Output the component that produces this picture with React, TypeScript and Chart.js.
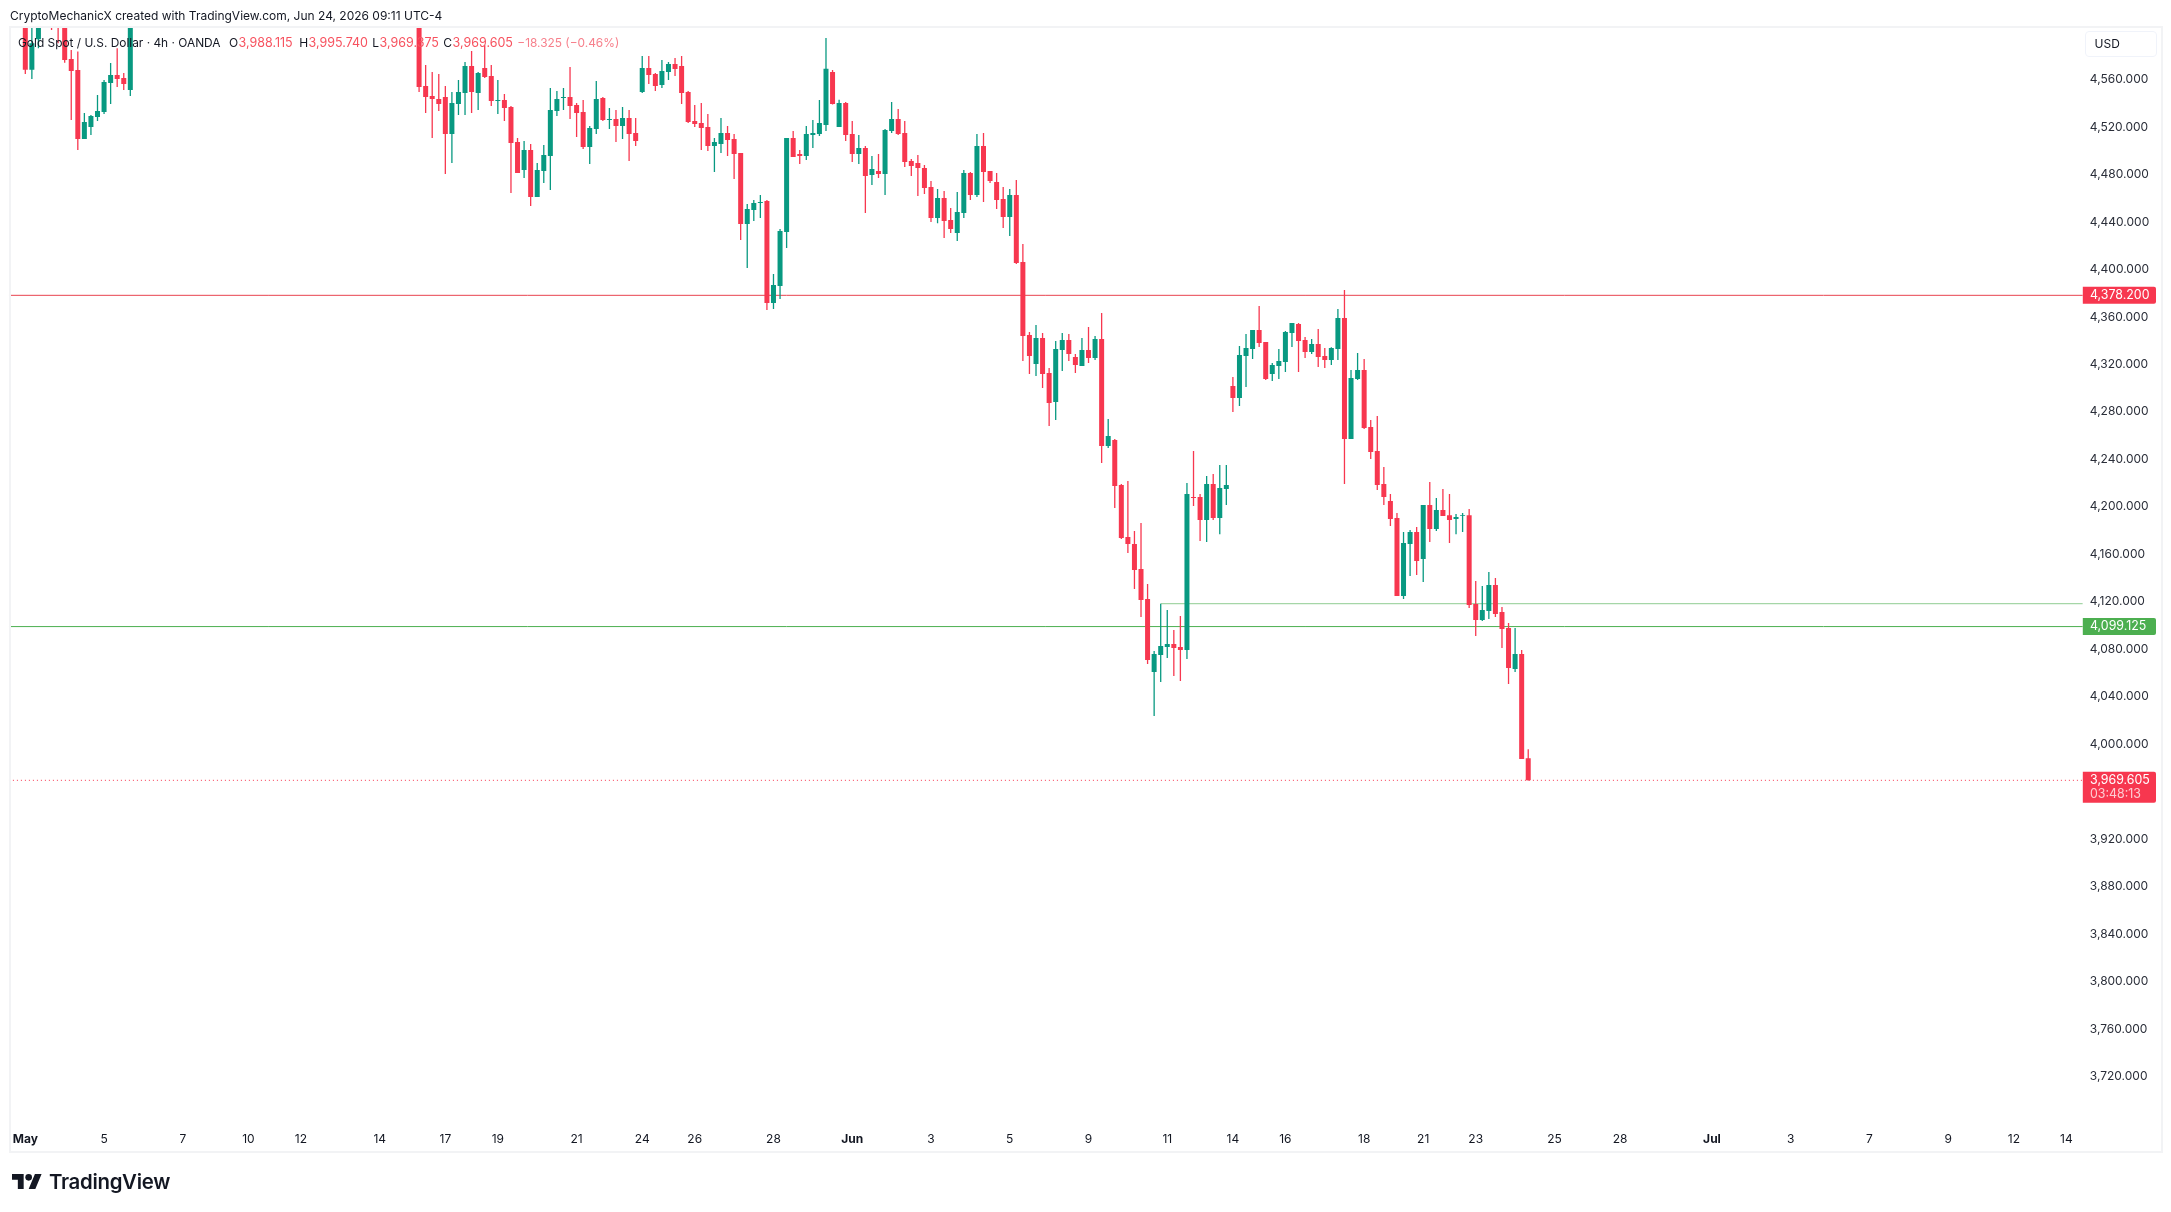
import React, { useEffect, useRef } from "react";
import { Chart, registerables } from "chart.js";

Chart.register(...registerables);

// Bar slots on the time axis (slot 0 = May 1, six 4h bars per trading day). Data hidden between 16 and 60.
const earlySlots = [0, 1, 2, 4, 5, 6, 7, 8, 9, 10, 11, 12, 13, 14, 15, 16];
const lateSlotFirst = 60;

const opens = [
  4625, 4568.3, 4593.9, 4640, 4640, 4620, 4577.3, 4568, 4509.9, 4520, 4528.4, 4532.7, 4557.1, 4563.8, 4561.3, 4551.2,
  4620, 4554.6, 4546.1, 4543.6, 4545.3, 4514.1, 4539.4, 4548.7, 4571.4, 4548.7,
  4569.7, 4563, 4541.9, 4542.8, 4536.9, 4507.4, 4483.8, 4500.6, 4461, 4483,
  4495.6, 4533.5, 4544.4, 4545.3, 4538.5, 4532.6, 4503.2, 4518.3, 4544.4, 4525.9,
  4526.8, 4520.9, 4527.6, 4515, 4549.5, 4569.7, 4564.7, 4555.4, 4566.3, 4573.1,
  4571.4, 4549.5, 4525, 4523.4, 4520, 4504, 4505.7, 4515, 4509.9, 4498.1,
  4438.3, 4450.1, 4456, 4457.7, 4371.7, 4386.1, 4431.6, 4510.7, 4497.3, 4495.6,
  4513.3, 4514.1, 4521.6, 4566.3, 4520, 4540.2, 4514, 4497.2, 4502.3, 4479.5,
  4482.9, 4480.4, 4516.6, 4526.7, 4514.9, 4491.3, 4489.6, 4485.4, 4469.4, 4443.3,
  4460.1, 4441.6, 4430.7, 4447.5, 4481.2, 4462.7, 4503.9, 4482.9, 4473.6, 4459.3,
  4444.1, 4462.7, 4406.2, 4344.7, 4320.3, 4342.2, 4312.7, 4288.3, 4332.1, 4340.5,
  4326.2, 4318.6, 4332.1, 4325.4, 4341.4, 4251.3, 4256.3, 4218.4, 4174.6, 4168.7,
  4147.6, 4122.3, 4060.8, 4075.1, 4081.9, 4084.4, 4081.9, 4079.3, 4208.2, 4208.2,
  4188.9, 4219.2, 4190.5, 4215, 4301.8, 4291.7, 4327.1, 4333, 4349, 4338.9,
  4311.9, 4318.7, 4322, 4346.5, 4354, 4340.6, 4330.4, 4337.2, 4327.1, 4323.7,
  4333, 4359.1, 4257.2, 4307.7, 4315.3, 4267.3, 4247, 4219.2, 4204.9, 4190.6,
  4124.8, 4168.6, 4178.8, 4156, 4201.5, 4181.3, 4197.3, 4193, 4189.7, 4192.2,
  4193, 4118.1, 4104.6, 4112.2, 4134.1, 4111.4, 4097.9, 4063.4, 4076, 3988.115,
];

const highs = [
  4640, 4615, 4630, 4650, 4650, 4630, 4584.9, 4583.5, 4531.8, 4530.1, 4547, 4559.6, 4573.9, 4586.3, 4565.5, 4635,
  4630, 4572.2, 4566.3, 4564.7, 4554.6, 4549.5, 4559.6, 4574.8, 4584, 4566.3,
  4588.8, 4572.2, 4559.6, 4547.8, 4537.7, 4510.7, 4508.2, 4505.7, 4489.7, 4504.9,
  4552.9, 4550.3, 4552.9, 4570.6, 4540.2, 4542.8, 4520.9, 4558.8, 4545.3, 4536,
  4534.3, 4536.9, 4534.3, 4527.6, 4579.8, 4579.8, 4565.5, 4576.5, 4574.8, 4578.1,
  4579.8, 4550.3, 4538.5, 4540.2, 4531, 4510.7, 4527.6, 4520.9, 4514.1, 4498.1,
  4455.1, 4458.5, 4462.7, 4458.5, 4396.2, 4434.1, 4510.7, 4516.6, 4500.6, 4520.9,
  4525.9, 4542.8, 4595, 4568, 4543, 4541, 4525, 4513.2, 4504, 4495.5,
  4497.2, 4518.3, 4541, 4535.1, 4525, 4493, 4496.4, 4488, 4474.5, 4467.7,
  4466, 4451.7, 4465.2, 4483.7, 4482, 4514, 4514.9, 4482.9, 4481.2, 4469.4,
  4467.7, 4475.3, 4421.4, 4347.3, 4353.2, 4346.4, 4316.9, 4339.7, 4346.4, 4345.6,
  4328.7, 4342.2, 4351.5, 4343.9, 4363.3, 4274, 4257.1, 4219.2, 4221.8, 4179.6,
  4186.3, 4135, 4078.5, 4118.4, 4113, 4096.2, 4108, 4220, 4247, 4210.8,
  4225.9, 4227.6, 4235.2, 4235.2, 4309.4, 4335.5, 4345.6, 4349, 4369.2, 4338.9,
  4321.2, 4333, 4348.1, 4354.9, 4354.9, 4343.1, 4341.4, 4349.8, 4333.8, 4334.5,
  4366.7, 4382.7, 4315.3, 4329.6, 4324.6, 4273.2, 4276.5, 4233.6, 4210.8, 4194.8,
  4178.8, 4180.4, 4183, 4201.5, 4220.9, 4207.4, 4215, 4210.8, 4193.9, 4194.8,
  4198.1, 4137.5, 4133.3, 4145.1, 4140, 4115.6, 4102.1, 4097.9, 4079.4, 3995.74,
];

const lows = [
  4564.7, 4560.5, 4586.3, 4601.7, 4590.5, 4574.2, 4525.9, 4500.6, 4509.9, 4513.3, 4525, 4531, 4539.4, 4553.7, 4551.2, 4546.1,
  4549.5, 4531.8, 4510.7, 4533.5, 4480.4, 4489.7, 4530.1, 4530.1, 4531.8, 4534.3,
  4561.3, 4537.7, 4531, 4525, 4464.4, 4481.3, 4477, 4453.5, 4461, 4472.8,
  4466.9, 4529.3, 4534.3, 4526.8, 4511.6, 4501.5, 4488.8, 4514.1, 4525, 4518.3,
  4507.4, 4509.9, 4491.4, 4504, 4548.7, 4556.2, 4550.3, 4552.9, 4559.6, 4563,
  4539.4, 4523.4, 4520, 4500.6, 4499.8, 4482.1, 4498.1, 4495.6, 4476.2, 4424.8,
  4401.2, 4440.8, 4443.4, 4365.9, 4366.7, 4375.1, 4418.1, 4494.7, 4488.8, 4492.2,
  4502.3, 4512.4, 4516.6, 4539, 4520, 4508.2, 4490.5, 4488.8, 4447.5, 4471.1,
  4477, 4462.7, 4514.9, 4513.2, 4486.3, 4478.7, 4461.8, 4463.5, 4439.9, 4439,
  4426.4, 4430.7, 4423.9, 4443.3, 4458.5, 4461, 4456.8, 4472.8, 4450.9, 4434.9,
  4428.1, 4404.5, 4322.8, 4311.9, 4310.2, 4300.1, 4268.1, 4273.1, 4314.4, 4322.8,
  4312.7, 4318.6, 4321.2, 4323.7, 4236.9, 4249.6, 4199, 4172.9, 4161.1, 4130.7,
  4107.1, 4067.5, 4023.8, 4052.4, 4072.6, 4057.4, 4053.2, 4071.8, 4200.7, 4171.2,
  4170.3, 4188.9, 4177, 4201.5, 4279.9, 4285, 4301, 4324.5, 4334.7, 4306.9,
  4306, 4307.7, 4313.6, 4334.7, 4313.6, 4325.4, 4328.8, 4317.8, 4317, 4319.5,
  4323.7, 4219.2, 4257.2, 4306.9, 4265.6, 4240.3, 4214.2, 4201.5, 4183.8, 4124.8,
  4122.3, 4141.7, 4142.5, 4136.6, 4170.3, 4179.6, 4192.2, 4169.5, 4177, 4178.8,
  4114.7, 4091.2, 4103.8, 4105.5, 4107.2, 4081.1, 4050.7, 4060.8, 3987.5, 3969.375,
];

const closes = [
  4568.3, 4590.5, 4620, 4620, 4625, 4576.5, 4567.2, 4509.9, 4524.2, 4529.3, 4533.5, 4557.9, 4563.8, 4560.5, 4556.2, 4625,
  4553.7, 4545.3, 4543.6, 4539.4, 4514.1, 4540.2, 4549.5, 4571.4, 4549.5, 4565.5,
  4562.1, 4541.9, 4542.7, 4536, 4506.5, 4481.3, 4500.6, 4461, 4483.8, 4496.4,
  4534.3, 4543.6, 4545.3, 4537.7, 4531.8, 4503.2, 4519.2, 4543.6, 4525.9, 4526.8,
  4520.9, 4527.6, 4514.1, 4508.2, 4569.7, 4563.8, 4554.6, 4567.2, 4573.1, 4568.9,
  4548.7, 4524.2, 4522.5, 4519.2, 4504, 4507.4, 4515, 4509.1, 4497.3, 4438.3,
  4450.9, 4456, 4456.8, 4371.7, 4386.9, 4432.4, 4510.7, 4494.7, 4495.6, 4514.1,
  4515, 4523.4, 4569, 4539.3, 4540.2, 4513.2, 4497.2, 4502.3, 4478.7, 4484.6,
  4480.4, 4517.4, 4526.7, 4514, 4490.5, 4487.1, 4485.4, 4468.6, 4443.3, 4460.1,
  4440.8, 4434, 4448.3, 4481.2, 4462.7, 4503.9, 4482, 4474.5, 4458.5, 4444.1,
  4462.7, 4405.4, 4343.9, 4327, 4342.2, 4311.9, 4287.4, 4332.9, 4340.5, 4328.7,
  4319.5, 4332.1, 4325.4, 4341.4, 4251.3, 4259.7, 4217.6, 4173.8, 4168.7, 4146.7,
  4121.5, 4070.9, 4076, 4082.7, 4084.4, 4081, 4079.3, 4210.8, 4207.4, 4188.9,
  4219.2, 4190.5, 4215.8, 4218.3, 4291.7, 4327.9, 4333.8, 4349, 4338, 4307.7,
  4319.5, 4322.9, 4347.3, 4354.9, 4339.7, 4330.4, 4337.2, 4326.2, 4323.7, 4333.8,
  4359.1, 4257.2, 4308.5, 4315.3, 4266.4, 4246.2, 4218.4, 4208.3, 4189.7, 4124.8,
  4169.5, 4178.8, 4154.3, 4201.5, 4181.3, 4197.3, 4192.2, 4188.9, 4191.4, 4193,
  4117.3, 4104.6, 4113, 4134.1, 4109.7, 4097.1, 4064.2, 4076, 3987.5, 3969.605,
];

const slots = [...earlySlots, ...opens.slice(earlySlots.length).map((_, k) => lateSlotFirst + k)];

const timeTickSlots = [0, 12, 24, 34, 42, 54, 64, 72, 84, 94, 102, 114, 126, 138, 150, 162, 174, 184, 192, 204, 213, 221, 233, 243, 257, 269, 281, 293, 303, 311];
const timeTickLabels = ["May", "5", "7", "10", "12", "14", "17", "19", "21", "24", "26", "28", "Jun", "3", "5", "9", "11", "14", "16", "18", "21", "23", "25", "28", "Jul", "3", "7", "9", "12", "14"];
const monthLabels = ["May", "Jun", "Jul"];

const priceTicks = [4560, 4520, 4480, 4440, 4400, 4360, 4320, 4280, 4240, 4200, 4160, 4120, 4080, 4040, 4000, 3960, 3920, 3880, 3840, 3800, 3760, 3720];
const hiddenPriceTicks = [3960];

const resistanceLevel = 4378.2;
const supportLevel = 4099.125;
const supportRayLevel = 4118.4;
const supportRayStartSlot = 173;
const lastPrice = 3969.605;
const countdown = "03:48:13";

const RED = "#f7374f";
const GREEN = "#089981";
const LEVEL_GREEN = "#4caf50";
const FONT = "Inter, 'Noto Sans', sans-serif";
const SLOT_MIN = -2.5;
const SLOT_MAX = 313.5;

const fmt = (v: number) =>
  v.toLocaleString("en-US", { minimumFractionDigits: 3, maximumFractionDigits: 3 });

const isUp = (k: number) => closes[k] >= opens[k];
const candleColors = opens.map((_, k) => (isUp(k) ? GREEN : RED));

const badgePlugin = {
  id: "priceBadges",
  afterDraw(chart: any) {
    const { ctx } = chart;
    const y = chart.scales.y;
    const left = chart.chartArea.right;
    const width = 2156 - left;
    const badge = (value: number, color: string, lines: string[]) => {
      const h = lines.length === 1 ? 17 : 31;
      const cy = y.getPixelForValue(value);
      const top = lines.length === 1 ? cy - h / 2 : cy - 8.5;
      ctx.save();
      ctx.fillStyle = color;
      ctx.beginPath();
      ctx.roundRect(left, top, width, h, [0, 2, 2, 0]);
      ctx.fill();
      ctx.font = `12.4px ${FONT}`;
      ctx.textBaseline = "middle";
      ctx.textAlign = "left";
      lines.forEach((t, n) => {
        ctx.fillStyle = n === 0 ? "#ffffff" : "rgba(255,255,255,0.75)";
        ctx.fillText(t, 2090, top + 8.7 + n * 14);
      });
      ctx.restore();
    };
    badge(resistanceLevel, RED, [fmt(resistanceLevel)]);
    badge(supportLevel, LEVEL_GREEN, [fmt(supportLevel)]);
    badge(lastPrice, RED, [fmt(lastPrice), countdown]);
  },
};

const abs = (left: number, top: number, extra: React.CSSProperties = {}): React.CSSProperties => ({
  position: "absolute",
  left,
  top,
  fontFamily: FONT,
  whiteSpace: "nowrap",
  lineHeight: "16px",
  ...extra,
});

export default function App() {
  const ref = useRef<HTMLCanvasElement>(null);

  useEffect(() => {
    if (!ref.current) return;
    const chart = new Chart(ref.current, {
      type: "bar",
      data: {
        datasets: [
          {
            type: "bar",
            label: "Bodies",
            data: slots.map((x, k) => ({ x, y: [opens[k], closes[k]] })),
            backgroundColor: candleColors,
            barThickness: 5,
            grouped: false,
            inflateAmount: 0,
            borderWidth: 0,
            order: 1,
          },
          {
            type: "bar",
            label: "Wicks",
            data: slots.map((x, k) => ({ x, y: [lows[k], highs[k]] })),
            backgroundColor: candleColors,
            barThickness: 1.3,
            grouped: false,
            inflateAmount: 0,
            borderWidth: 0,
            order: 2,
          },
          {
            type: "line",
            label: "Resistance",
            data: [{ x: SLOT_MIN, y: resistanceLevel }, { x: SLOT_MAX, y: resistanceLevel }],
            borderColor: "#e8434f",
            borderWidth: 1,
            pointRadius: 0,
            order: 3,
          },
          {
            type: "line",
            label: "Support",
            data: [{ x: SLOT_MIN, y: supportLevel }, { x: SLOT_MAX, y: supportLevel }],
            borderColor: LEVEL_GREEN,
            borderWidth: 1,
            pointRadius: 0,
            order: 3,
          },
          {
            type: "line",
            label: "Support ray",
            data: [{ x: supportRayStartSlot, y: supportRayLevel }, { x: SLOT_MAX, y: supportRayLevel }],
            borderColor: "#a5d6a7",
            borderWidth: 1.3,
            pointRadius: 0,
            order: 3,
          },
          {
            type: "line",
            label: "Last price",
            data: [{ x: SLOT_MIN, y: lastPrice }, { x: SLOT_MAX, y: lastPrice }],
            borderColor: RED,
            borderWidth: 1,
            borderDash: [1, 3],
            pointRadius: 0,
            order: 3,
          },
        ] as any,
      },
      options: {
        responsive: false,
        animation: false,
        layout: { padding: { left: 8.9, top: 28, right: 0, bottom: 0 } },
        plugins: { legend: { display: false }, tooltip: { enabled: false } },
        scales: {
          x: {
            type: "linear",
            offset: false,
            bounds: "data",
            min: SLOT_MIN,
            max: SLOT_MAX,
            grid: { display: false, drawTicks: false },
            border: { display: false },
            afterBuildTicks: (axis: any) => {
              axis.ticks = timeTickSlots.map((value) => ({ value }));
            },
            afterFit: (axis: any) => {
              axis.height = 91;
            },
            ticks: {
              autoSkip: false,
              maxRotation: 0,
              padding: 11,
              color: "#131722",
              font: (c: any) => ({
                family: FONT,
                size: 12,
                weight: monthLabels.includes(timeTickLabels[timeTickSlots.indexOf(c.tick?.value)]) ? "bold" : "normal",
              }),
              callback: (v: any) => timeTickLabels[timeTickSlots.indexOf(v)] ?? "",
            },
          },
          y: {
            type: "linear",
            position: "right",
            bounds: "data",
            min: 3682.6,
            max: 4603.4,
            grid: { display: false, drawTicks: false },
            border: { display: false },
            afterBuildTicks: (axis: any) => {
              axis.ticks = priceTicks.filter((v) => !hiddenPriceTicks.includes(v)).map((value) => ({ value }));
            },
            afterFit: (axis: any) => {
              axis.width = 88.2;
            },
            ticks: {
              autoSkip: false,
              padding: 7,
              color: "#2a2e39",
              font: { family: FONT, size: 12 },
              callback: (v: any) => fmt(Number(v)),
            },
          },
        },
      } as any,
      plugins: [badgePlugin],
    });
    return () => chart.destroy();
  }, []);

  return (
    <div style={{ position: "absolute", left: 0, top: 0, width: 2171, height: 1212, background: "#ffffff", overflow: "hidden" }}>
      <canvas ref={ref} width={2171} height={1212} style={{ position: "absolute", left: 0, top: 0, width: 2171, height: 1212 }} />
      <div style={{ position: "absolute", left: 9, top: 26, width: 2149.5, height: 1123, border: "2px solid #f2f3f5" }} />
      <div style={abs(10, 8, { fontSize: 12, color: "#131722" })}>CryptoMechanicX created with TradingView.com, Jun 24, 2026 09:11 UTC-4</div>
      <div style={abs(18, 35, { fontSize: 11.9, color: "#131722" })}>Gold Spot / U.S. Dollar · 4h · OANDA</div>
      <div style={abs(229, 35, { fontSize: 12, color: "#131722" })}>O</div>
      <div style={abs(238.5, 35, { fontSize: 12.5, color: "#f7525f" })}>3,988.115</div>
      <div style={abs(299.3, 35, { fontSize: 12, color: "#131722" })}>H</div>
      <div style={abs(308.5, 35, { fontSize: 12.5, color: "#f7525f" })}>3,995.740</div>
      <div style={abs(372.3, 35, { fontSize: 12, color: "#131722" })}>L</div>
      <div style={abs(379.5, 35, { fontSize: 12.5, color: "#f7525f" })}>3,969.375</div>
      <div style={abs(443.3, 35, { fontSize: 12, color: "#131722" })}>C</div>
      <div style={abs(452.5, 35, { fontSize: 12.5, color: "#f7525f" })}>3,969.605</div>
      <div style={abs(517.3, 35, { fontSize: 11.9, color: "#f7808c" })}>−18.325 (−0.46%)</div>
      <div
        style={abs(2085, 31, {
          width: 72,
          height: 26,
          boxSizing: "border-box",
          border: "1px solid #f0f3fa",
          borderRadius: 4,
          fontSize: 12,
          color: "#131722",
          lineHeight: "24px",
          paddingLeft: 8.5,
        })}
      >
        USD
      </div>
      <svg style={{ position: "absolute", left: 12, top: 1174 }} width="30" height="15" viewBox="0 4 36 18">
        <path d="M14 22H7V11H0V4h14v18zM28 22h-8l7.5-18h8L28 22z" fill="#131722" />
        <circle cx="20" cy="8" r="4" fill="#131722" />
      </svg>
      <div style={abs(49, 1170, { fontSize: 20.4, fontWeight: 600, color: "#131722", lineHeight: "24px", letterSpacing: -0.3 })}>TradingView</div>
    </div>
  );
}
